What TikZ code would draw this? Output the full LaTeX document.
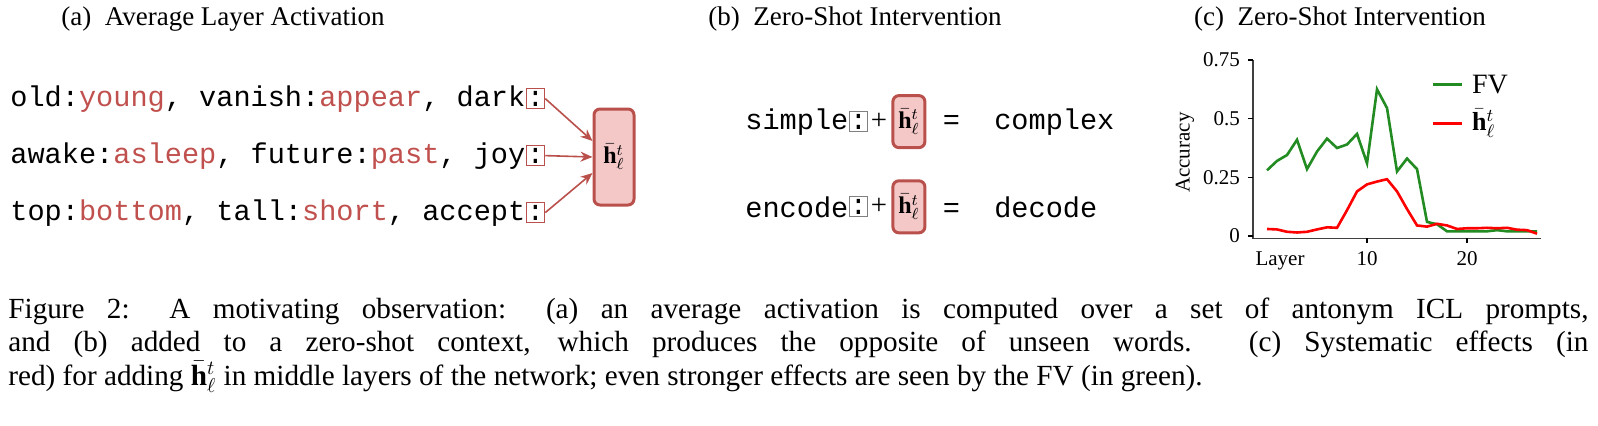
\documentclass[tikz,border=0pt]{standalone}
\usepackage{fontspec}
\setmainfont{Liberation Serif}
\setmonofont{Liberation Mono}
\usetikzlibrary{arrows.meta}
\definecolor{ansred}{RGB}{192,80,77}
\definecolor{boxedge}{RGB}{185,80,75}
\definecolor{boxfill}{RGB}{245,200,200}
\definecolor{fvgreen}{RGB}{34,139,34}
\newcommand{\hvec}{\ensuremath{\bar{\mathbf{h}}^{t}_{\ell}}}
\tikzset{
  title/.style={font=\fontsize{13.5}{15}\selectfont, anchor=center},
  mono/.style={font=\fontsize{14.3}{16}\selectfont\ttfamily, inner sep=0pt},
  colonbox/.style={draw=boxedge, line width=0.6pt, inner sep=0.3pt, font=\fontsize{14.3}{16}\selectfont\ttfamily, minimum height=10pt},
  greybox/.style={draw=gray, line width=0.6pt, inner sep=0.3pt, font=\fontsize{14.3}{16}\selectfont\ttfamily, minimum height=10pt},
  hbox/.style={draw=boxedge, fill=boxfill, line width=1.5pt, rounded corners=3pt, inner sep=1pt},
  arr/.style={draw=boxedge, line width=0.8pt, -{Stealth[length=6pt,width=5pt]}},
  captext/.style={font=\fontsize{14.6}{16}\selectfont, anchor=base west, inner sep=0pt},
  ticklab/.style={font=\fontsize{10.5}{12}\selectfont},
}
\begin{document}
\begin{tikzpicture}[x=0.5pt,y=-0.5pt]
\useasboundingbox (0,0) rectangle (1598,425);
% titles
\node[title] (ta) at (223,19) {(a)\ \ Average Layer Activation};
\node[title] (tb) at (855,19) {(b)\ \ Zero-Shot Intervention};
\node[title] (tc) at (1340,19) {(c)\ \ Zero-Shot Intervention};
% panel a
\node[mono, anchor=base west] (r1) at (10,106) {old:\textcolor{ansred}{young}, vanish:\textcolor{ansred}{appear}, dark};
\node[mono, anchor=base west] (r2) at (10,163) {awake:\textcolor{ansred}{asleep}, future:\textcolor{ansred}{past}, joy};
\node[mono, anchor=base west] (r3) at (10,220) {top:\textcolor{ansred}{bottom}, tall:\textcolor{ansred}{short}, accept};
\node[colonbox, anchor=west] (c1) at (r1.east) {:};
\node[colonbox, anchor=west] (c2) at (r2.east) {:};
\node[colonbox, anchor=west] (c3) at (r3.east) {:};
\node[hbox, minimum width=20pt, minimum height=48pt] (hb) at (614,157) {\large$\hvec$};
\draw[arr] (c1.east) -- ([yshift=8pt]hb.west);
\draw[arr] (c2.east) -- (hb.west);
\draw[arr] (c3.east) -- ([yshift=-8pt]hb.west);
% panel b
\node[mono, anchor=base west] (s1) at (745,129) {simple};
\node[greybox, anchor=west] (g1) at (s1.east) {:};
\node[font=\Large, anchor=west, inner sep=1pt] (p1) at (g1.east) {+};
\node[hbox, anchor=west, minimum width=16pt, minimum height=26pt] (h1) at ([xshift=1pt]p1.east) {\large$\hvec$};
\node[mono, anchor=west] (e1) at ([xshift=8pt]h1.east) {=\ \ complex};
\node[mono, anchor=base west] (s2) at (745,217) {encode};
\node[greybox, anchor=west] (g2) at (s2.east) {:};
\node[font=\Large, anchor=west, inner sep=1pt] (p2) at (g2.east) {+};
\node[hbox, anchor=west, minimum width=16pt, minimum height=26pt] (h2) at ([xshift=1pt]p2.east) {\large$\hvec$};
\node[mono, anchor=west] (e2) at ([xshift=8pt]h2.east) {=\ \ decode};
% panel c
\begin{scope}[shift={(1267,236)}, x=5pt, y=117.35pt]
\draw[line width=0.8pt, draw=black!75] (-1.4,0.75) -- (-1.4,-0.01) -- (27.4,-0.01);
\foreach \v/\l in {0/0,0.25/0.25,0.5/0.5,0.75/0.75}{
  \draw[line width=0.6pt] (-1.4,\v) -- (-1.9,\v);
  \node[ticklab, anchor=east] at (-2,\v) {\l};
}
\foreach \v in {10,20}{
  \draw[line width=0.6pt] (\v,-0.01) -- (\v,-0.03);
  \node[ticklab, anchor=north] at (\v,-0.035) {\v};
}
\node[ticklab, anchor=north] at (1.3,-0.035) {Layer};
\node[ticklab, rotate=90] at (-8.2,0.355) {Accuracy};
\draw[fvgreen, line width=1.3pt] plot coordinates {(0,.28)(1,.32)(2,.345)(3,.41)(4,.285)(5,.36)(6,.415)(7,.375)(8,.39)(9,.435)(10,.31)(11,.625)(12,.545)(13,.275)(14,.33)(15,.285)(16,.06)(17,.05)(18,.02)(19,.02)(20,.02)(21,.02)(22,.02)(23,.025)(24,.02)(25,.02)(26,.02)(27,.02)};
\draw[red, line width=1.3pt] plot coordinates {(0,.03)(1,.028)(2,.018)(3,.015)(4,.018)(5,.028)(6,.037)(7,.035)(8,.11)(9,.19)(10,.22)(11,.232)(12,.242)(13,.19)(14,.115)(15,.045)(16,.04)(17,.052)(18,.045)(19,.03)(20,.033)(21,.033)(22,.035)(23,.033)(24,.035)(25,.027)(26,.025)(27,.01)};
\draw[fvgreen, line width=1.5pt] (16.6,0.645) -- (19.5,0.645);
\node[font=\fontsize{14}{16}\selectfont, anchor=west] (lfv) at (19.8,0.645) {FV};
\draw[red, line width=1.5pt] (16.6,0.48) -- (19.5,0.48);
\node[font=\fontsize{13}{16}\selectfont, anchor=west] (lh) at (19.8,0.48) {$\hvec$};
\end{scope}
% caption
\node[captext] (cap1) at (8,318) {\makebox[790pt][s]{Figure 2: A motivating observation: (a) an average activation is computed over a set of antonym ICL prompts,}};
\node[captext] (cap2) at (8,351) {\makebox[790pt][s]{and (b) added to a zero-shot context, which produces the opposite of unseen words. (c) Systematic effects (in}};
\node[captext] (cap3) at (8,385) {red) for adding $\hvec$ in middle layers of the network; even stronger effects are seen by the FV (in green).};
\end{tikzpicture}
\end{document}
